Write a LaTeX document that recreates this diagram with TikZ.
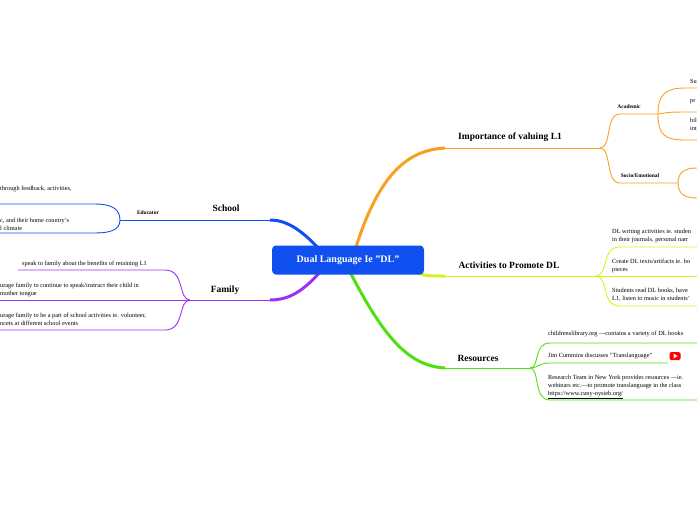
\documentclass[tikz,border=0pt]{standalone}
\usepackage{fontspec}
\setmainfont[Ligatures=NoCommon]{Liberation Serif}
\newcommand{\qq}{\char"22\relax}
\begin{document}
\begin{tikzpicture}[x=1pt,y=-1pt,
  lbl/.style={font=\fontsize{9.5}{10}\selectfont\bfseries,inner sep=0},
  sub/.style={font=\fontsize{5.5}{6}\selectfont\bfseries,inner sep=0},
  txt/.style={font=\fontsize{6.3}{8}\selectfont,inner sep=0,align=left,anchor=west},
  br/.style={line width=0.9pt},
  main/.style={line width=3pt}]
\useasboundingbox (0,0) rectangle (697,520);
\clip (0,0) rectangle (697,520);
\definecolor{cor}{HTML}{F8A020}
\definecolor{cye}{HTML}{D8F020}
\definecolor{cgr}{HTML}{50E010}
\definecolor{cbl}{HTML}{1050F0}
\definecolor{cpu}{HTML}{A030F0}
% main branches
\draw[cor,main] (355,250) .. controls (380,170) and (410,150) .. (445,148);
\draw[cor,br] (440,148) -- (600,148);
\draw[cye,main] (410,270) .. controls (425,276) .. (445,276);
\draw[cye,br] (440,276) -- (595,276);
\draw[cgr,main] (350,272) .. controls (385,340) and (410,366) .. (445,368);
\draw[cgr,br] (440,368) -- (530,368);
\draw[cbl,main] (320,250) .. controls (300,228) and (285,220) .. (270,220);
\draw[cbl,br] (275,220) -- (120,220);
\draw[cpu,main] (320,272) .. controls (300,295) and (285,300) .. (270,300);
\draw[cpu,br] (275,300) -- (190,300);
% central node
\node[fill=cbl,rounded corners=4pt,minimum width=152pt,minimum height=29pt,text=white,font=\fontsize{10}{12}\selectfont\bfseries] (center) at (348,260) {Dual Language Ie \qq DL\qq};
% labels
\node[lbl] (imp) at (510,137) {Importance of valuing L1};
\node[lbl] (act) at (509,265) {Activities to Promote DL};
\node[lbl] (res) at (478,358) {Resources};
\node[lbl] (sch) at (226,208) {School};
\node[lbl] (fam) at (225,290) {Family};
% orange sub
\draw[cor,br] (600,148) .. controls (612,148) and (605,114) .. (620,114) -- (658,114);
\draw[cor,br] (600,148) .. controls (612,148) and (605,183) .. (620,183) -- (678,183);
\node[sub] at (629,107) {Academic};
\node[sub] at (640,176) {Socio/Emotional};
\draw[cor,br] (658,114) .. controls (658,95) and (665,88) .. (685,88) -- (697,88);
\draw[cor,br] (658,114) .. controls (670,112) .. (697,112);
\draw[cor,br] (658,114) .. controls (658,135) and (665,140) .. (685,140) -- (697,140);
\draw[cor,br] (678,183) .. controls (678,172) and (685,168) .. (697,168);
\draw[cor,br] (678,183) .. controls (678,194) and (685,198) .. (697,198);
\node[txt] at (690,81) {Su};
\node[txt] at (690,102) {pr};
\node[txt] at (690,124) {bil\\int};
% yellow sub
\draw[cye,br] (595,276) .. controls (610,276) and (600,247) .. (620,247) -- (697,247);
\draw[cye,br] (595,276) -- (697,276);
\draw[cye,br] (595,276) .. controls (610,276) and (600,306) .. (620,306) -- (697,306);
\node[txt] at (612,236) {DL writing activities ie. studen\\in their journals, personal narr};
\node[txt] at (612,266) {Create DL texts/artifacts ie. bo\\pieces};
\node[txt] at (612,295) {Students read DL books, have\\L1, listen to music in students'};
% green sub
\draw[cgr,br] (530,368) .. controls (540,368) and (533,343) .. (550,343) -- (697,343);
\draw[cgr,br] (530,368) .. controls (538,368) and (538,363) .. (550,363) -- (668,363);
\draw[cgr,br] (530,368) .. controls (540,368) and (533,400) .. (550,400) -- (697,400);
\node[txt] at (548,334) {childrenslibrary.org ---contains a variety of DL books};
\node[txt] (jim) at (548,356) {Jim Cummins discusses \qq Translanguage\qq};
\node[fill=red,rounded corners=1.5pt,minimum width=11pt,minimum height=8pt,inner sep=0] (yt) at (675,356) {};
\fill[white] (673.5,353.5) -- (677.5,356) -- (673.5,358.5) -- cycle;
\node[txt] at (548,387) {Research Team in New York provides resources ---ie.\\webinars etc.---to promote translanguage in the class\\\underline{https://www.cuny-nysieb.org/}};
% blue sub
\node[sub] at (148,213) {Educator};
\draw[cbl,br] (120,220) .. controls (120,208) and (110,204) .. (95,204) -- (0,204);
\draw[cbl,br] (120,220) .. controls (120,230) and (110,233) .. (95,233) -- (0,233);
\node[txt] at (0,189) {through feedback, activities,};
\node[txt] at (0,224) {c, and their home country's\\l climate};
% purple sub
\draw[cpu,br] (190,300) .. controls (178,300) and (185,270) .. (165,270) -- (18,270);
\draw[cpu,br] (190,300) -- (0,300);
\draw[cpu,br] (190,300) .. controls (178,300) and (185,330) .. (165,330) -- (0,330);
\node[txt] at (22,264) {speak to family about the benefits of retaining L1};
\node[txt] at (0,290) {urage family to continue to speak/instruct their child in\\ mother tongue};
\node[txt] at (0,319) {urage family to be a part of school activities ie. volunteer,\\ncets at different school events};
\end{tikzpicture}
\end{document}
